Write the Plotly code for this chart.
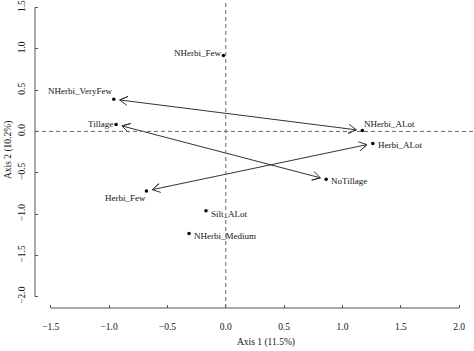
import math
import plotly.graph_objects as go

# ---- data ----
labels = ["NHerbi_Few", "NHerbi_VeryFew", "Tillage", "NHerbi_ALot", "Herbi_ALot",
          "NoTillage", "Herbi_Few", "Silt_ALot", "NHerbi_Medium"]
axis1 = [-0.02, -0.96, -0.94, 1.17, 1.26, 0.86, -0.68, -0.17, -0.315]
axis2 = [0.92, 0.39, 0.085, 0.01, -0.145, -0.58, -0.72, -0.96, -1.235]
arrow_from = ["NHerbi_VeryFew", "Tillage", "Herbi_Few"]
arrow_to = ["NHerbi_ALot", "NoTillage", "Herbi_ALot"]
x_ticks = [-1.5, -1.0, -0.5, 0.0, 0.5, 1.0, 1.5, 2.0]
y_ticks = [-2.0, -1.5, -1.0, -0.5, 0.0, 0.5, 1.0, 1.5]
x_title = "Axis 1 (11.5%)"
y_title = "Axis 2 (10.2%)"

# ---- layout geometry / style ----
FW, FH = 474, 351
ML, MR, MT, MB = 35, 0, 0, 43
W, H = FW - ML - MR, FH - MT - MB
X0, X1 = -1.635, 2.127
Y0, Y1 = -2.138, 1.591
FONT = "Liberation Serif"
TXT = "#111111"
AX = "#555555"
LBL_SIZE = 9
TICK_SIZE = 9.5
TITLE_SIZE = 9.5

# label placement: (xanchor, xshift, yshift)
label_pos = {
    "NHerbi_Few": ("right", 0, 2),
    "NHerbi_VeryFew": ("right", 0, 8),
    "Tillage": ("right", -1, 0),
    "NHerbi_ALot": ("left", 0, 7),
    "Herbi_ALot": ("left", 3, -2),
    "NoTillage": ("left", 3, -2),
    "Herbi_Few": ("right", 2, -7),
    "Silt_ALot": ("left", 3, -3),
    "NHerbi_Medium": ("left", 3, -3),
}

sx = W / (X1 - X0)
sy = H / (Y1 - Y0)


def to_px(x, y):
    return ((x - X0) * sx, (Y1 - y) * sy)


def to_data(px, py):
    return (X0 + px / sx, Y1 - py / sy)


idx = {l: i for i, l in enumerate(labels)}
GAP = 6.0
HEAD = 9.0
ANG = math.radians(30)

line_x, line_y, head_x, head_y = [], [], [], []
for a, b in zip(arrow_from, arrow_to):
    ax_, ay_ = to_px(axis1[idx[a]], axis2[idx[a]])
    bx_, by_ = to_px(axis1[idx[b]], axis2[idx[b]])
    dx, dy = bx_ - ax_, by_ - ay_
    d = math.hypot(dx, dy)
    ux, uy = dx / d, dy / d
    ea = (ax_ + ux * GAP, ay_ + uy * GAP)
    eb = (bx_ - ux * GAP, by_ - uy * GAP)
    for p in (ea, eb):
        q = to_data(*p)
        line_x.append(q[0]); line_y.append(q[1])
    line_x.append(None); line_y.append(None)
    for tip, (vx, vy) in ((eb, (-ux, -uy)), (ea, (ux, uy))):
        for s in (1, -1):
            c, sn = math.cos(s * ANG), math.sin(s * ANG)
            rx, ry = vx * c - vy * sn, vx * sn + vy * c
            p1 = to_data(tip[0] + rx * HEAD, tip[1] + ry * HEAD)
            p0 = to_data(*tip)
            head_x += [p1[0], p0[0]]
            head_y += [p1[1], p0[1]]
        head_x.append(None); head_y.append(None)

fig = go.Figure()
fig.add_trace(go.Scatter(x=line_x, y=line_y, mode="lines",
                         line=dict(color="#333333", width=1), hoverinfo="skip"))
fig.add_trace(go.Scatter(x=head_x, y=head_y, mode="lines",
                         line=dict(color="#333333", width=1), hoverinfo="skip"))
fig.add_trace(go.Scatter(x=axis1, y=axis2, mode="markers",
                         marker=dict(color="black", size=3.5), text=labels))

for l, x, y in zip(labels, axis1, axis2):
    xa, xs, ys = label_pos[l]
    fig.add_annotation(x=x, y=y, text=l, showarrow=False, xanchor=xa, yanchor="middle",
                       xshift=xs, yshift=ys, font=dict(family=FONT, size=LBL_SIZE, color=TXT))

# dashed reference lines
fig.add_shape(type="line", xref="x", yref="paper", x0=0, x1=0, y0=0, y1=1,
              line=dict(color="#666666", width=1, dash="4px,3px"))
fig.add_shape(type="line", xref="paper", yref="y", x0=0, x1=1, y0=0, y1=0,
              line=dict(color="#666666", width=1, dash="4px,3px"))
# R-style axis lines spanning the tick range
fig.add_shape(type="line", xref="x", yref="paper", x0=x_ticks[0], x1=x_ticks[-1], y0=0, y1=0,
              line=dict(color=AX, width=1))
fig.add_shape(type="line", xref="paper", yref="y", x0=0, x1=0, y0=y_ticks[0], y1=y_ticks[-1],
              line=dict(color=AX, width=1))

fig.add_annotation(xref="paper", yref="paper", x=(266 - ML) / W, y=(FH - MB - 342) / H,
                   text=x_title, showarrow=False, xanchor="center", yanchor="middle",
                   font=dict(family=FONT, size=TITLE_SIZE, color=TXT))
fig.add_annotation(xref="paper", yref="paper", x=(8 - ML) / W, y=(FH - MB - 150) / H,
                   text=y_title, showarrow=False, textangle=-90, xanchor="center",
                   yanchor="middle", font=dict(family=FONT, size=TITLE_SIZE, color=TXT))

fig.update_layout(
    width=FW, height=FH, margin=dict(l=ML, r=MR, t=MT, b=MB),
    paper_bgcolor="white", plot_bgcolor="white", showlegend=False,
    xaxis=dict(range=[X0, X1], tickvals=x_ticks, tickformat=".1f", showgrid=False,
               zeroline=False, showline=False, ticks="inside", ticklen=3, tickcolor=AX,
               ticklabelstandoff=11, ticklabeloverflow="allow",
               tickfont=dict(family=FONT, size=TICK_SIZE, color=TXT)),
    yaxis=dict(range=[Y0, Y1], tickvals=y_ticks, tickformat=".1f", showgrid=False,
               zeroline=False, showline=False, ticks="inside", ticklen=3, tickcolor=AX,
               tickangle=-90, ticklabelstandoff=7, ticklabeloverflow="allow",
               tickfont=dict(family=FONT, size=TICK_SIZE, color=TXT)),
)

fig.write_html("out.html")
